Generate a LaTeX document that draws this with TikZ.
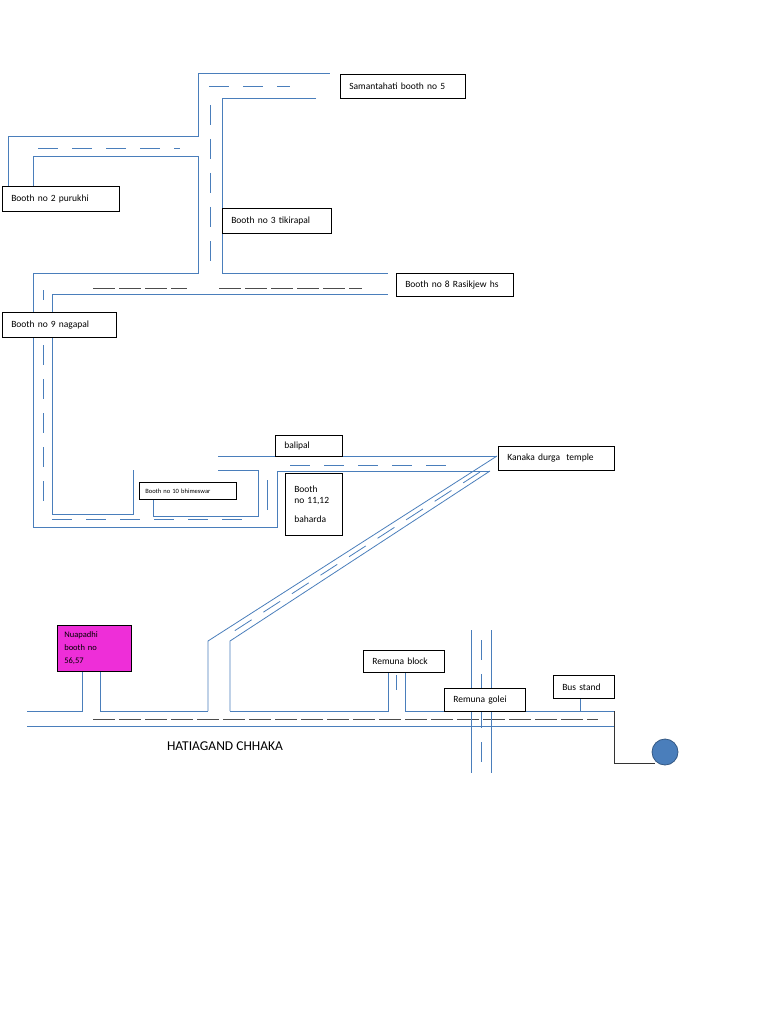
\documentclass[tikz,border=0pt]{standalone}
\usepackage{fontspec}
\setmainfont{Carlito}
\usetikzlibrary{positioning}
\definecolor{roadblue}{HTML}{4A7EBB}
\definecolor{magentabox}{HTML}{EE2ED8}
\begin{document}
\begin{tikzpicture}[x=1pt, y=-1pt, line width=0.8pt,
  road/.style={roadblue},
  mid/.style={roadblue, dash pattern=on 20pt off 14pt},
  dark/.style={black!70, line width=1pt, dash pattern=on 22pt off 4pt},
  box/.style={draw=black, line width=0.6pt, fill=white, anchor=north west,
    font=\fontsize{9.5}{11}\selectfont, align=left, inner xsep=9pt, inner ysep=0pt}]
\useasboundingbox (0,0) rectangle (768,1024);

% upper roads
\draw[road] (8,188) -- (8,136) -- (198,136) -- (198,73) -- (330,73);
\draw[road] (316,98) -- (222,98) -- (222,273) -- (388,273);
\draw[road] (33,188) -- (33,156) -- (198,156) -- (198,273) -- (33,273) -- (33,312);
\draw[road] (52,312) -- (52,294) -- (388,294);
\draw[mid] (209,86) -- (290,86);
\draw[mid] (38,148) -- (180,148);
\draw[mid] (210,105) -- (210,272);
\draw[dark] (93,288) -- (187,288);
\draw[dark] (219,288) -- (362,288);
\draw[road] (43,290) -- (43,300);

% left loop
\draw[road] (33,338) -- (33,527) -- (277,527) -- (277,471) -- (490,471);
\draw[road] (52,338) -- (52,514) -- (133,514) -- (133,470);
\draw[road] (218,456) -- (497,456);
\draw[road] (218,470) -- (258,470) -- (258,516) -- (153,516) -- (153,500);
\draw[mid] (43,345) -- (43,505);
\draw[mid] (52,519) -- (250,519);
\draw[road] (267,480) -- (267,510);
\draw[mid] (290,465) -- (460,465);

% diagonal to the main road
\draw[road] (497,456) -- (208,641) -- (208,711);
\draw[road] (490,471) -- (230,641) -- (230,711);
\draw[mid] (480,472) -- (225,637);

% main road
\draw[road] (27,711) -- (82,711) -- (82,672);
\draw[road] (100,672) -- (100,711) -- (208,711);
\draw[road] (230,711) -- (388,711) -- (388,672);
\draw[road] (405,672) -- (405,711) -- (614,711);
\draw[road] (580,698) -- (580,711);
\draw[road] (396,675) -- (396,690);
\draw[road] (27,726) -- (614,726);
\draw[dark] (93,719) -- (598,719);
\draw[road] (471,630) -- (471,773);
\draw[road] (491,630) -- (491,773);
\draw[mid] (481,640) -- (481,770);
\draw[black!80] (614,711) -- (614,763) -- (655,763);
\node[circle, draw=roadblue!70!black, fill=roadblue, minimum size=26pt, inner sep=0pt] (circ) at (665,752) {};

% labels
\node[box, text width=107pt, minimum height=24pt] (samantahati) at (340,74) {Samantahati booth no 5};
\node[box, text width=99pt, minimum height=25pt] (booth2) at (2,186) {Booth no 2 purukhi};
\node[box, text width=91pt, minimum height=25pt] (booth3) at (222,208) {Booth no 3 tikirapal};
\node[box, text width=99pt, minimum height=23pt] (booth8) at (396,273) {Booth no 8 Rasikjew hs};
\node[box, text width=96pt, minimum height=25pt] (booth9) at (2,312) {Booth no 9 nagapal};
\node[box, text width=49pt, minimum height=21pt] (balipal) at (275,435) {balipal};
\node[box, text width=85pt, minimum height=17pt, inner xsep=6pt, font=\fontsize{6.5}{7}\selectfont] (booth10) at (139,482) {Booth no 10 bhimeswar};
\node[box, text width=39pt, minimum height=62pt, inner ysep=4pt] (booth11) at (285,473) {Booth\\no 11,12\\[8pt]baharda};
\node[box, text width=98pt, minimum height=24pt] (kanaka) at (498,446) {Kanaka durga\ \ temple};
\node[box, fill=magentabox, text width=60pt, minimum height=46pt, inner xsep=7pt, font=\fontsize{8.5}{13}\selectfont] (nuapadhi) at (57,625) {Nuapadhi\\booth no\\56,57};
\node[box, text width=63pt, minimum height=22pt] (remunablock) at (363,650) {Remuna block};
\node[box, text width=63pt, minimum height=23pt] (remunagolei) at (444,688) {Remuna golei};
\node[box, text width=43pt, minimum height=23pt] (busstand) at (553,675) {Bus stand};
\node[font=\fontsize{13.5}{15}\selectfont] (chhaka) at (225,746) {HATIAGAND CHHAKA};
\end{tikzpicture}
\end{document}
